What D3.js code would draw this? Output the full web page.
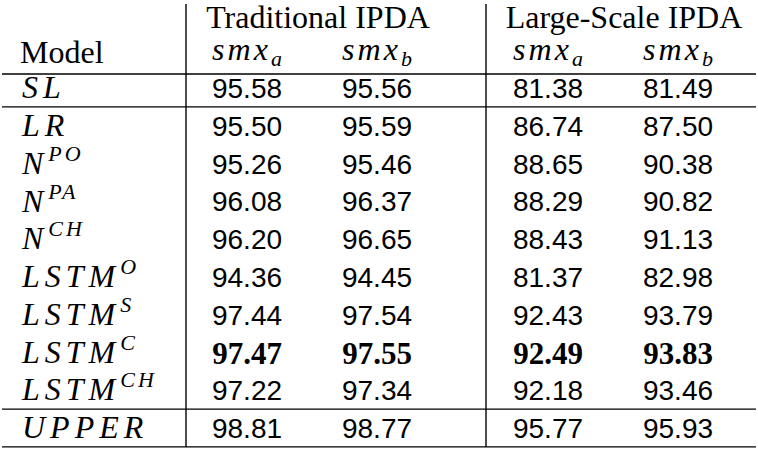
<!DOCTYPE html>
<html>
<head>
<meta charset="utf-8">
<script src="https://cdn.jsdelivr.net/npm/d3@7"></script>
<style>
  html, body { margin: 0; padding: 0; background: #fff; }
  svg { display: block; }
</style>
</head>
<body>
<svg id="chart" width="758" height="450"></svg>
<script>
// ---- data ----
const groups = ["Traditional IPDA", "Large-Scale IPDA"];
const subCols = ["a", "b", "a", "b"];
const modelBase = ["SL", "LR", "N", "N", "N", "LSTM", "LSTM", "LSTM", "LSTM", "UPPER"];
const modelSup  = ["",   "",   "PO", "PA", "CH", "O",   "S",    "C",    "CH",   ""];
const tradA  = [95.58, 95.50, 95.26, 96.08, 96.20, 94.36, 97.44, 97.47, 97.22, 98.81];
const tradB  = [95.56, 95.59, 95.46, 96.37, 96.65, 94.45, 97.54, 97.55, 97.34, 98.77];
const largeA = [81.38, 86.74, 88.65, 88.29, 88.43, 81.37, 92.43, 92.49, 92.18, 95.77];
const largeB = [81.49, 87.50, 90.38, 90.82, 91.13, 82.98, 93.79, 93.83, 93.46, 95.93];
const boldRow = 7;

// ---- layout ----
const svg = d3.select("#chart");
const nRows = modelBase.length;
const y = d3.scaleLinear().domain([0, nRows - 1]).range([88, 428]);
const colX = d3.scaleOrdinal().domain([0, 1, 2, 3]).range([247, 377, 548, 678]);
const groupX = d3.scaleOrdinal().domain([0, 1]).range([318, 624]);
const serif = "'Liberation Serif', 'Times New Roman', serif";
const sans = "'Liberation Sans', Arial, Helvetica, sans-serif";
const HFS = 32;   // header serif
const NFS = 28;   // numbers sans
const MFS = 32;   // math italic
const mathLS = 5;

// Lines
const lineG = svg.append("g").attr("stroke", "#000").attr("stroke-width", 1.4);
const step = y(1) - y(0);
const hLines = [74, (y(0) + y(1)) / 2, (y(nRows - 2) + y(nRows - 1)) / 2, y(nRows - 1) + step / 2];
lineG.selectAll("line.h").data(hLines).join("line")
  .attr("class", "h").attr("x1", 2).attr("x2", 756)
  .attr("y1", d => d).attr("y2", d => d);
lineG.selectAll("line.v").data([186, 486]).join("line")
  .attr("class", "v").attr("x1", d => d).attr("x2", d => d)
  .attr("y1", 4).attr("y2", hLines[3]);

// Group headers
svg.selectAll("text.grp").data(groups).join("text")
  .attr("class", "grp")
  .attr("x", (d, i) => groupX(i)).attr("y", 17).attr("dy", "0.33em")
  .attr("text-anchor", "middle")
  .style("font-family", serif).style("font-size", HFS + "px")
  .text(d => d);

// Model header
svg.append("text").attr("x", 20).attr("y", 52).attr("dy", "0.33em")
  .style("font-family", serif).style("font-size", HFS + "px").text("Model");

// Sub column headers smx_a / smx_b
subCols.forEach((s, i) => {
  const t = svg.append("text").attr("x", colX(i)).attr("y", 52).attr("dy", "0.26em")
    .attr("text-anchor", "middle")
    .style("font-family", serif).style("font-style", "italic").style("font-size", MFS + "px");
  t.append("tspan").style("letter-spacing", "3px").text("smx");
  t.append("tspan").attr("dy", 6).style("font-size", "22px").text(s);
});

// Model names
modelBase.forEach((b, i) => {
  const t = svg.append("text").attr("x", 22).attr("y", y(i)).attr("dy", "0.32em")
    .style("font-family", serif).style("font-style", "italic").style("font-size", MFS + "px");
  t.append("tspan").style("letter-spacing", mathLS + "px").text(b);
  if (modelSup[i]) {
    t.append("tspan").attr("dy", -13).style("font-size", "22px")
      .style("letter-spacing", "3px").text(modelSup[i]);
  }
});

// Values
const cols = [tradA, tradB, largeA, largeB];
cols.forEach((arr, c) => {
  svg.selectAll("text.v" + c).data(arr).join("text")
    .attr("class", "v" + c)
    .attr("x", colX(c)).attr("y", (d, i) => y(i)).attr("dy", "0.36em")
    .attr("text-anchor", "middle")
    .style("font-family", (d, i) => i === boldRow ? serif : sans)
    .style("font-weight", (d, i) => i === boldRow ? "bold" : "normal")
    .style("font-size", (d, i) => i === boldRow ? "31px" : NFS + "px")
    .text(d => d.toFixed(2));
});
</script>
</body>
</html>
